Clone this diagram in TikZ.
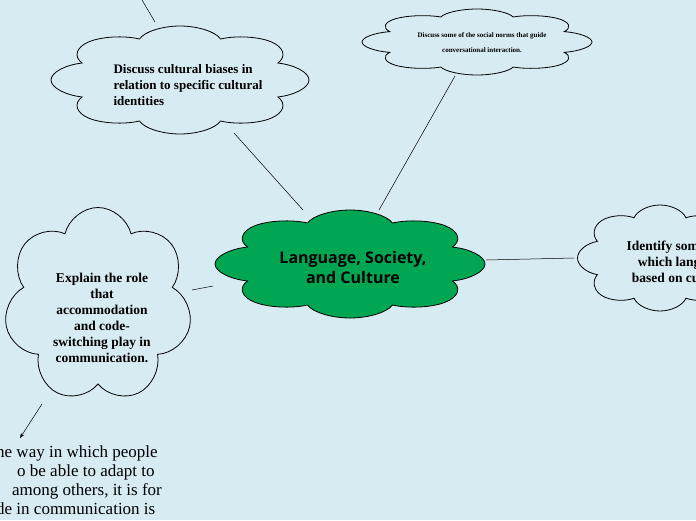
\documentclass[tikz,border=0pt]{standalone}
\usepackage{fontspec}
\setmainfont{Liberation Serif}
\newfontfamily\osans{Open Sans}
\usetikzlibrary{shapes.symbols,arrows.meta}
\begin{document}
\begin{tikzpicture}[x=1pt,y=-1pt,
  cl/.style={cloud,draw=black,line width=0.8pt,cloud puffs=#1,aspect=1,inner sep=0pt,minimum size=100pt,transform shape},
  cl/.default=8,
  lnk/.style={draw=black,line width=0.5pt},
  bt/.style={font=\bfseries\fontsize{13.5}{16}\selectfont,align=center},
  bl/.style={anchor=base west,font=\fontsize{17}{19}\selectfont,inner sep=0pt}]
\fill[fill={rgb,255:red,215;green,235;blue,242}] (0,0) rectangle (696,520);
\useasboundingbox (0,0) rectangle (696,520);
\clip (0,0) rectangle (696,520);
\node[cl=8,fill={rgb,255:red,0;green,166;blue,81},xscale=2.7,yscale=1.08] (c) at (350,264) {};
\node[font=\osans\bfseries\fontsize{16}{20}\selectfont,align=center] (ct) at (353,267) {Language, Society,\\and Culture};
\node[cl=8,xscale=2.58,yscale=1.08] (tl) at (180,80) {};
\node[font=\bfseries\fontsize{13}{16}\selectfont,align=left] (tlt) at (188,85) {Discuss cultural biases in\\relation to specific cultural\\identities};
\node[cl=8,xscale=2.3,yscale=0.66] (tr) at (477,42) {};
\node[font=\bfseries\fontsize{7}{15}\selectfont,align=center] (trt) at (482,43) {Discuss some of the social norms that guide\\conversational interaction.};
\node[cl=7,xscale=1.88,yscale=1.95] (l) at (98,305) {};
\node[bt,align=center] (lt) at (102,318) {Explain the role\\that\\accommodation\\and code-\\switching play in\\communication.};
\node[cl=8,xscale=1.65,yscale=1.06] (r) at (660,258) {};
\node[bt,anchor=west,align=center] (rt) at (623,262) {Identify some\\\ \ which lang\\based on cu};
\coordinate (a1) at (142,0); \coordinate (a2) at (155,22);
\draw[lnk] (a1) -- (a2);
\draw[lnk] (234,133) -- (303,210);
\draw[lnk] (379,210) -- (455,76);
\draw[lnk] (192,290) -- (213,286);
\draw[lnk] (486,260) -- (574,258);
\coordinate (b1) at (42,404); \coordinate (b2) at (20,438);
\draw[lnk,-{Stealth[length=5pt]}] (b1) -- (b2);
\node[bl] (l1) at (-4,457) {he way in which people};
\node[bl] (l2) at (17,476) {o be able to adapt to};
\node[bl] (l3) at (12,495) {among others, it is for};
\node[bl] (l4) at (-4,514) {de in communication is};
\end{tikzpicture}
\end{document}
